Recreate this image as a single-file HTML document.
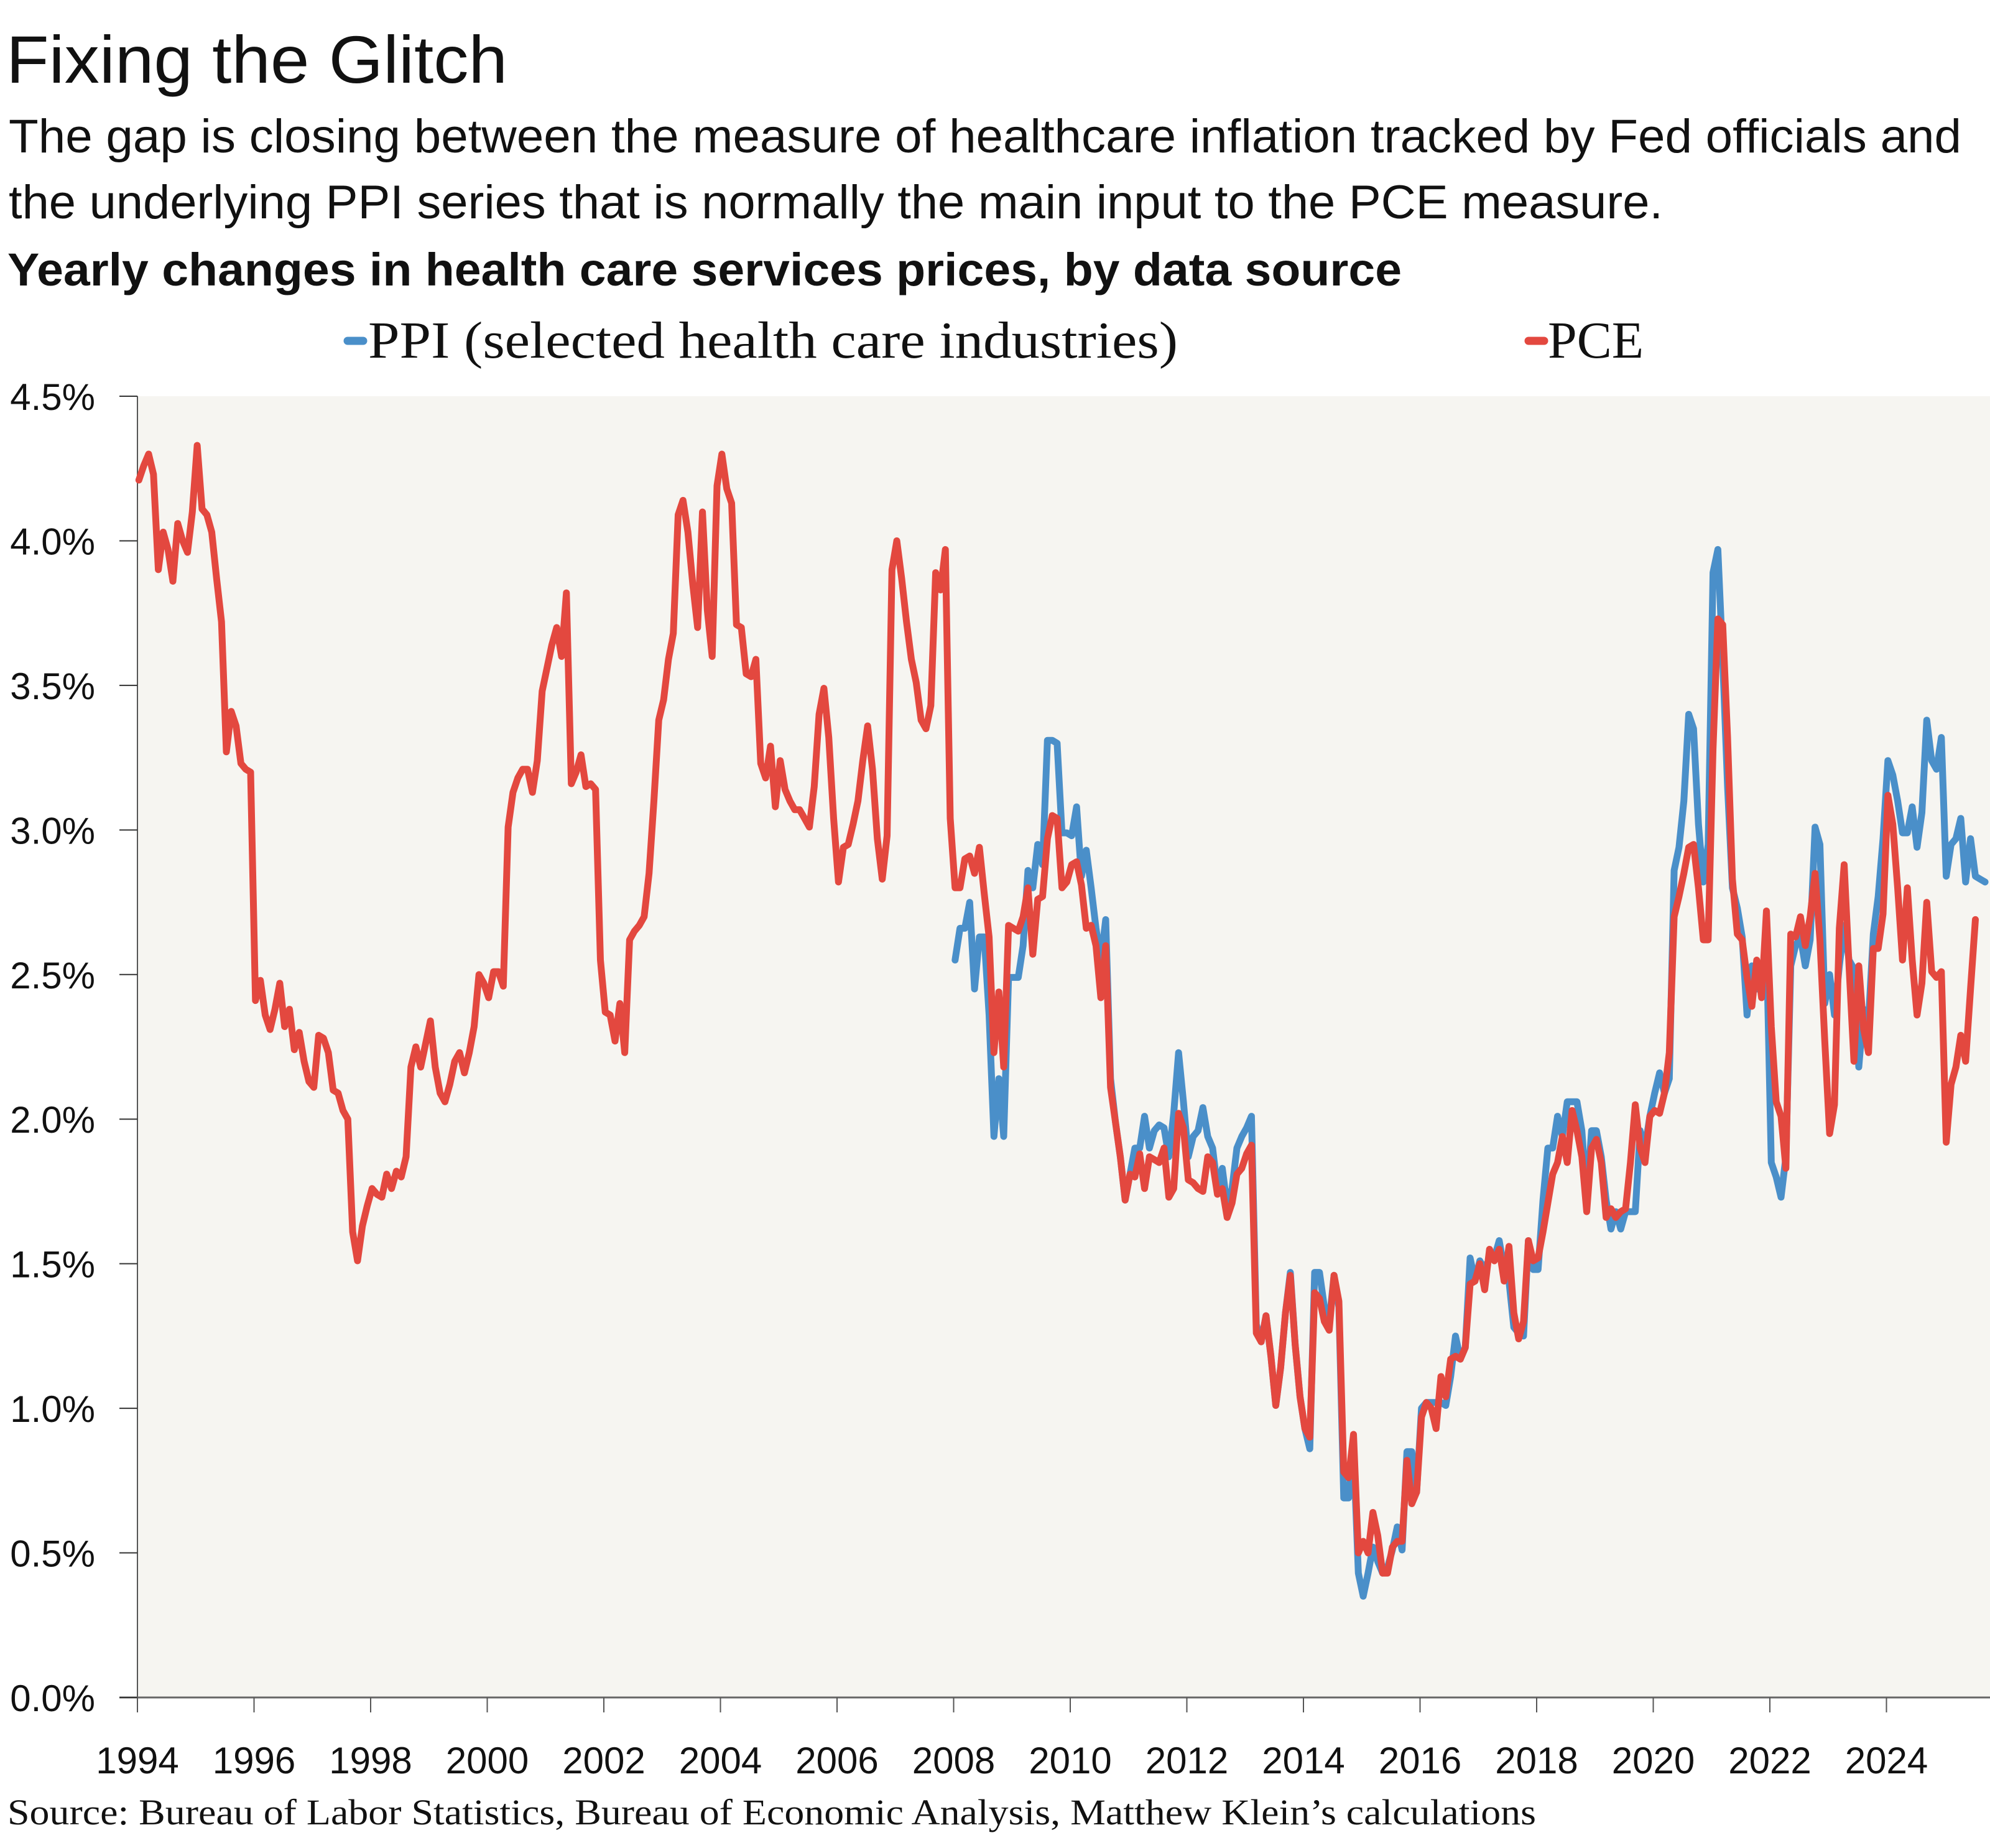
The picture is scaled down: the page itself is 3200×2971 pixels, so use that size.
<!DOCTYPE html>
<html><head><meta charset="utf-8"><style>
html,body{margin:0;padding:0;background:#fff;}
svg{display:block;}
.sans{font-family:"Liberation Sans",sans-serif;}
.serif{font-family:"Liberation Serif",serif;}
</style></head><body>
<svg id="chart" width="3200" height="2971" viewBox="0 0 3200 2971" xmlns="http://www.w3.org/2000/svg">
<text class="sans" x="10" y="133" font-size="108" fill="#111" textLength="806" lengthAdjust="spacingAndGlyphs">Fixing the Glitch</text>
<text class="sans" x="14" y="245" font-size="76" fill="#111" textLength="3140" lengthAdjust="spacingAndGlyphs">The gap is closing between the measure of healthcare inflation tracked by Fed officials and</text>
<text class="sans" x="14" y="351" font-size="76" fill="#111" textLength="2660" lengthAdjust="spacingAndGlyphs">the underlying PPI series that is normally the main input to the PCE measure.</text>
<text class="sans" x="12" y="459" font-size="74" font-weight="bold" fill="#111" textLength="2242" lengthAdjust="spacingAndGlyphs">Yearly changes in health care services prices, by data source</text>
<g>
<line x1="559" y1="548" x2="584" y2="548" stroke="#4a8fc9" stroke-width="13" stroke-linecap="round"/>
<text class="serif" x="592" y="575" font-size="84" fill="#111" textLength="1302" lengthAdjust="spacingAndGlyphs">PPI (selected health care industries)</text>
<line x1="2458" y1="548" x2="2483" y2="548" stroke="#e3483f" stroke-width="13" stroke-linecap="round"/>
<text class="serif" x="2489" y="575" font-size="84" fill="#111" textLength="154" lengthAdjust="spacingAndGlyphs">PCE</text>
</g>
<rect x="221" y="637" width="2979" height="2092" fill="#f6f5f1"/>
<g id="axes"></g>
<g id="series"></g>
<text class="serif" x="12" y="2933" font-size="58" fill="#111" textLength="2458" lengthAdjust="spacingAndGlyphs">Source: Bureau of Labor Statistics, Bureau of Economic Analysis, Matthew Klein’s calculations</text>
</svg>
<script>
const startYear = 1994;
const yTicks = [0, 0.5, 1.0, 1.5, 2.0, 2.5, 3.0, 3.5, 4.0, 4.5];
const yTickLabels = ["0.0%","0.5%","1.0%","1.5%","2.0%","2.5%","3.0%","3.5%","4.0%","4.5%"];
const xTicks = [1994,1996,1998,2000,2002,2004,2006,2008,2010,2012,2014,2016,2018,2020,2022,2024];
const pceValues = [
4.21,4.26,4.30,4.23,3.90,4.03,3.97,3.86,4.06,4.00,3.96,4.10,
4.33,4.11,4.09,4.03,3.87,3.72,3.27,3.41,3.36,3.23,3.21,3.20,
2.41,2.48,2.36,2.31,2.38,2.47,2.32,2.38,2.24,2.30,2.20,2.13,
2.11,2.29,2.28,2.23,2.10,2.09,2.03,2.00,1.61,1.51,1.63,1.70,
1.76,1.74,1.73,1.81,1.76,1.82,1.80,1.87,2.18,2.25,2.18,2.26,
2.34,2.18,2.09,2.06,2.12,2.20,2.23,2.16,2.23,2.32,2.50,2.47,
2.42,2.51,2.51,2.46,3.01,3.13,3.18,3.21,3.21,3.13,3.24,3.48,
3.56,3.64,3.70,3.60,3.82,3.16,3.20,3.26,3.15,3.16,3.14,2.55,
2.37,2.36,2.27,2.40,2.23,2.62,2.65,2.67,2.70,2.85,3.10,3.38,
3.45,3.59,3.68,4.09,4.14,4.03,3.85,3.70,4.10,3.76,3.60,4.19,
4.30,4.18,4.13,3.71,3.70,3.54,3.53,3.59,3.23,3.18,3.29,3.08,
3.24,3.14,3.10,3.07,3.07,3.04,3.01,3.15,3.40,3.49,3.32,3.04,
2.82,2.94,2.95,3.02,3.10,3.24,3.36,3.21,2.97,2.83,2.98,3.90,
4.00,3.87,3.72,3.59,3.51,3.38,3.35,3.43,3.89,3.83,3.97,3.04,
2.80,2.80,2.90,2.91,2.85,2.94,2.78,2.63,2.23,2.44,2.18,2.67,
2.66,2.65,2.70,2.80,2.57,2.76,2.77,2.97,3.05,3.04,2.80,2.82,
2.88,2.89,2.81,2.66,2.67,2.60,2.42,2.60,2.11,1.99,1.87,1.72,
1.81,1.80,1.88,1.76,1.87,1.86,1.85,1.90,1.73,1.76,2.02,1.97,
1.79,1.78,1.76,1.75,1.87,1.85,1.74,1.76,1.66,1.71,1.81,1.83,
1.88,1.91,1.26,1.23,1.32,1.18,1.01,1.14,1.33,1.46,1.22,1.04,
0.93,0.90,1.40,1.38,1.30,1.27,1.46,1.37,0.78,0.76,0.91,0.50,
0.54,0.50,0.64,0.56,0.43,0.43,0.52,0.54,0.54,0.82,0.67,0.71,
0.97,1.02,1.00,0.93,1.11,1.04,1.17,1.18,1.17,1.21,1.43,1.44,
1.50,1.41,1.55,1.51,1.55,1.44,1.56,1.33,1.24,1.30,1.58,1.51,
1.52,1.61,1.71,1.81,1.85,1.94,1.85,2.03,1.96,1.87,1.68,1.90,
1.93,1.85,1.66,1.69,1.66,1.68,1.69,1.85,2.05,1.90,1.85,2.01,
2.03,2.02,2.09,2.23,2.70,2.77,2.85,2.94,2.95,2.80,2.62,2.62,
3.28,3.73,3.71,3.32,2.83,2.64,2.62,2.49,2.39,2.55,2.42,2.72,
2.32,2.06,2.01,1.83,2.64,2.63,2.70,2.60,2.70,2.85,2.62,2.27,
1.95,2.05,2.66,2.88,2.53,2.20,2.53,2.31,2.23,2.59,2.59,2.71,
3.12,3.02,2.80,2.55,2.80,2.55,2.36,2.47,2.75,2.51,2.49,2.51,
1.92,2.12,2.18,2.29,2.20,2.45,2.69
];
const ppiStartYear = 2008;
const ppiValues = [
2.55,2.66,2.66,2.75,2.45,2.63,2.63,2.36,1.94,2.14,1.94,2.49,
2.49,2.49,2.60,2.86,2.80,2.95,2.88,3.31,3.31,3.30,2.99,2.99,
2.98,3.08,2.84,2.93,2.80,2.66,2.55,2.69,2.14,1.99,1.87,1.72,
1.81,1.90,1.90,2.01,1.90,1.96,1.98,1.97,1.87,2.02,2.23,2.06,
1.87,1.94,1.96,2.04,1.94,1.90,1.76,1.83,1.70,1.76,1.90,1.94,
1.97,2.01,1.29,1.23,1.32,1.18,1.01,1.14,1.33,1.47,1.22,1.04,
0.93,0.86,1.47,1.47,1.35,1.30,1.46,1.35,0.69,0.69,0.86,0.43,
0.35,0.43,0.52,0.47,0.43,0.45,0.51,0.59,0.51,0.85,0.85,0.71,
1.00,1.02,1.02,1.02,1.02,1.01,1.11,1.25,1.17,1.21,1.52,1.44,
1.51,1.48,1.52,1.52,1.58,1.48,1.44,1.28,1.26,1.25,1.58,1.48,
1.48,1.72,1.90,1.90,2.01,1.94,2.06,2.06,2.06,1.96,1.72,1.96,
1.96,1.87,1.72,1.62,1.68,1.62,1.68,1.68,1.68,1.96,1.90,2.01,
2.09,2.16,2.09,2.14,2.86,2.94,3.10,3.40,3.35,3.02,2.82,2.95,
3.89,3.97,3.59,3.15,2.80,2.73,2.63,2.36,2.53,2.45,2.49,2.62,
1.85,1.80,1.73,1.87,2.53,2.60,2.63,2.53,2.62,3.01,2.95,2.40,
2.50,2.36,2.53,2.67,2.55,2.52,2.18,2.38,2.34,2.64,2.77,2.97,
3.24,3.19,3.10,2.99,2.99,3.08,2.94,3.06,3.38,3.24,3.21,3.32,
2.84,2.95,2.97,3.04,2.82,2.97,2.84,2.83,2.82
];

const NS = "http://www.w3.org/2000/svg";
const X0 = 221, PX_PER_YEAR = 93.75;
const Y0 = 2729, PX_PER_PCT = (2729 - 637) / 4.5;
function xScale(year){ return X0 + (year - 1994) * PX_PER_YEAR; }
function yScale(v){ return Y0 - v * PX_PER_PCT; }
function mk(tag, attrs){ const e = document.createElementNS(NS, tag); for (const k in attrs) e.setAttribute(k, attrs[k]); return e; }

const axes = document.getElementById('axes');
const yAxis = mk('line', {x1: X0, y1: 637, x2: X0, y2: Y0, stroke: '#555', 'stroke-width': 2});


axes.appendChild(yAxis);
const xAxis = mk('line', {x1: 192, y1: Y0, x2: 3200, y2: Y0, stroke: '#666', 'stroke-width': 3});


axes.appendChild(xAxis);

yTicks.forEach((v, i) => {
  const y = yScale(v);
  const t = mk('line', {x1: 192, y1: y, x2: X0, y2: y, stroke: '#333', 'stroke-width': 2});
  
  
  axes.appendChild(t);
  const lab = mk('text', {x: 153, y: y + 22, 'text-anchor': 'end', 'font-size': 60, fill: '#111', 'font-family': '"Liberation Sans", sans-serif'});
  lab.textContent = yTickLabels[i];
  
  
  axes.appendChild(lab);
});
xTicks.forEach(yr => {
  const x = xScale(yr);
  const t = mk('line', {x1: x, y1: Y0, x2: x, y2: Y0 + 24, stroke: '#555', 'stroke-width': 2});
  
  
  axes.appendChild(t);
  const lab = mk('text', {x: x, y: 2851, 'text-anchor': 'middle', 'font-size': 60, fill: '#111', 'font-family': '"Liberation Sans", sans-serif'});
  lab.textContent = String(yr);
  
  
  axes.appendChild(lab);
});

function pathFor(values, y0){
  return values.map((v, i) => (i ? 'L' : 'M') + xScale(y0 + (i + 0.3) / 12).toFixed(1) + ' ' + yScale(v).toFixed(1)).join(' ');
}
const series = document.getElementById('series');
const ppiLine = mk('path', {d: pathFor(ppiValues, ppiStartYear), fill: 'none', stroke: '#4a8fc9', 'stroke-width': 11, 'stroke-linejoin': 'round', 'stroke-linecap': 'round'});


series.appendChild(ppiLine);
const pceLine = mk('path', {d: pathFor(pceValues, startYear), fill: 'none', stroke: '#e3483f', 'stroke-width': 11, 'stroke-linejoin': 'round', 'stroke-linecap': 'round'});


series.appendChild(pceLine);
</script>
</body></html>
